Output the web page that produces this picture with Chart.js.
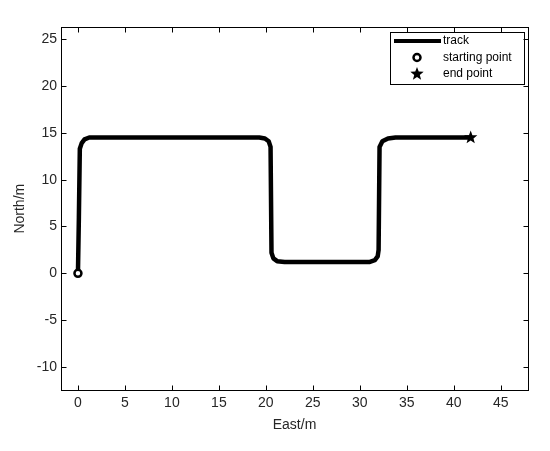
<!DOCTYPE html>
<html>
<head>
<meta charset="utf-8">
<script src="https://cdn.jsdelivr.net/npm/chart.js@4"></script>
<style>
  html, body { margin: 0; padding: 0; background: #fff; }
</style>
</head>
<body>
<canvas id="chart" width="550" height="451"></canvas>
<script>
const trackEast = [0, 0.1, 0.2, 0.4, 0.7, 1.2, 19.3, 19.9, 20.3, 20.5, 20.6, 20.8, 21.2, 22, 31, 31.6, 31.9, 32, 32.1, 32.4, 33, 33.8, 41.8];
const trackNorth = [0, 6, 13.3, 13.9, 14.3, 14.5, 14.5, 14.4, 14.1, 13.5, 2.2, 1.6, 1.3, 1.2, 1.2, 1.4, 1.8, 2.5, 13.5, 14.1, 14.4, 14.5, 14.5];
const startPoint = [0, 0];
const endPoint = [41.8, 14.5];
const xTicks = [0, 5, 10, 15, 20, 25, 30, 35, 40, 45];
const yTicks = [-10, -5, 0, 5, 10, 15, 20, 25];

const legendItems = [
  { label: "track", kind: "line" },
  { label: "starting point", kind: "circle" },
  { label: "end point", kind: "star" },
];

const tickFont = { family: "Arial, 'Liberation Sans'", size: 14 };

function drawStar(ctx, cx, cy, r) {
  ctx.beginPath();
  for (let i = 0; i < 10; i += 1) {
    const rad = i % 2 === 0 ? r : r * 0.42;
    const a = -Math.PI / 2 + (i * Math.PI) / 5;
    const px = cx + rad * Math.cos(a);
    const py = cy + rad * Math.sin(a);
    if (i === 0) ctx.moveTo(px, py); else ctx.lineTo(px, py);
  }
  ctx.closePath();
  ctx.fill();
}

const legendPlugin = {
  id: "insideLegend",
  afterDraw(chart) {
    const ctx = chart.ctx;
    const area = chart.chartArea;
    const w = 134, h = 52;
    const x = area.right - w - 4, y = area.top + 5;
    ctx.save();
    ctx.fillStyle = "#fff";
    ctx.fillRect(x, y, w, h);
    ctx.strokeStyle = "#000";
    ctx.lineWidth = 1;
    ctx.strokeRect(x + 0.5, y + 0.5, w, h);
    ctx.font = "12px Arial, 'Liberation Sans'";
    ctx.textBaseline = "middle";
    legendItems.forEach((item, i) => {
      const cy = y + 9 + i * 16.5;
      const cx = x + 27;
      ctx.fillStyle = "#000";
      ctx.strokeStyle = "#000";
      if (item.kind === "line") {
        ctx.lineWidth = 4;
        ctx.beginPath();
        ctx.moveTo(x + 4, cy);
        ctx.lineTo(x + 51, cy);
        ctx.stroke();
      } else if (item.kind === "circle") {
        ctx.lineWidth = 2.5;
        ctx.beginPath();
        ctx.arc(cx, cy, 3.5, 0, Math.PI * 2);
        ctx.stroke();
      } else {
        drawStar(ctx, cx, cy, 7);
      }
      ctx.fillText(item.label, x + 53, cy);
    });
    ctx.restore();
  },
};

const starPlugin = {
  id: "endStar",
  afterDatasetsDraw(chart) {
    const xs = chart.scales.x, ys = chart.scales.y;
    chart.ctx.save();
    chart.ctx.fillStyle = "#000";
    drawStar(chart.ctx, xs.getPixelForValue(endPoint[0]), ys.getPixelForValue(endPoint[1]), 7);
    chart.ctx.restore();
  },
};

// box around the plot plus short inward tick marks on all four sides
const framePlugin = {
  id: "frame",
  afterDraw(chart) {
    const a = chart.chartArea, ctx = chart.ctx;
    const xs = chart.scales.x, ys = chart.scales.y;
    const l = Math.round(a.left) + 0.5, t = Math.round(a.top) + 0.5;
    const r = Math.round(a.right) + 0.5, b = Math.round(a.bottom) + 0.5;
    ctx.save();
    ctx.strokeStyle = "#000";
    ctx.lineWidth = 1;
    ctx.strokeRect(l, t, r - l, b - t);
    ctx.beginPath();
    xTicks.forEach((v) => {
      const px = Math.round(xs.getPixelForValue(v)) + 0.5;
      ctx.moveTo(px, b); ctx.lineTo(px, b - 5);
      ctx.moveTo(px, t); ctx.lineTo(px, t + 5);
    });
    yTicks.forEach((v) => {
      const py = Math.round(ys.getPixelForValue(v)) + 0.5;
      ctx.moveTo(l, py); ctx.lineTo(l + 5, py);
      ctx.moveTo(r, py); ctx.lineTo(r - 5, py);
    });
    ctx.stroke();
    ctx.restore();
  },
};

new Chart(document.getElementById("chart"), {
  type: "scatter",
  data: {
    datasets: [
      {
        label: "track",
        data: trackEast.map((e, i) => ({ x: e, y: trackNorth[i] })),
        showLine: true,
        borderColor: "#000",
        borderWidth: 4.5,
        pointRadius: 0,
        tension: 0,
        borderJoinStyle: "round",
        borderCapStyle: "round",
        order: 2,
      },
      {
        label: "starting point",
        data: [{ x: startPoint[0], y: startPoint[1] }],
        pointRadius: 3.5,
        pointBorderWidth: 2.5,
        pointBorderColor: "#000",
        pointBackgroundColor: "#fff",
        order: 1,
      },
    ],
  },
  options: {
    responsive: false,
    animation: false,
    devicePixelRatio: 1,
    layout: { padding: { top: 27, right: 22, left: 8, bottom: 15 } },
    plugins: { legend: { display: false }, tooltip: { enabled: false } },
    scales: {
      x: {
        type: "linear",
        min: -1.8,
        max: 47.9,
        afterBuildTicks: (s) => { s.ticks = xTicks.map((v) => ({ value: v })); },
        ticks: { color: "#262626", font: tickFont, padding: 4 },
        grid: { display: false, drawTicks: false },
        border: { color: "#000" },
        title: { display: true, text: "East/m", color: "#262626", font: { family: tickFont.family, size: 14 }, padding: 2 },
      },
      y: {
        type: "linear",
        min: -12.5,
        max: 26.3,
        afterBuildTicks: (s) => { s.ticks = yTicks.map((v) => ({ value: v })); },
        ticks: { color: "#262626", font: tickFont, padding: 4 },
        grid: { display: false, drawTicks: false },
        border: { color: "#000" },
        title: { display: true, text: "North/m", color: "#262626", font: { family: tickFont.family, size: 14 }, padding: 4 },
      },
    },
  },
  plugins: [legendPlugin, starPlugin, framePlugin],
});
</script>
</body>
</html>
